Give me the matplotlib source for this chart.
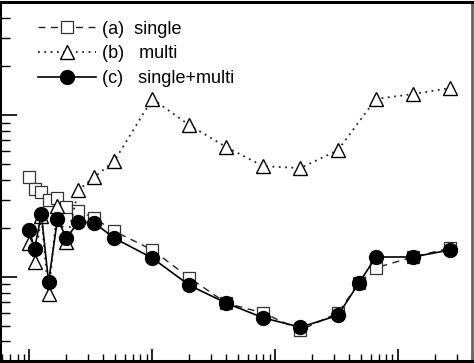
#!/usr/bin/env python3
"""Log-log comparison of single, multi and single+multi series."""

import matplotlib
matplotlib.use("Agg")
import matplotlib.pyplot as plt
from matplotlib.ticker import LogLocator, NullFormatter

plt.rcParams["font.family"] = ["Liberation Sans", "DejaVu Sans"]

# x positions shared by every series
x_vals = [1.0, 1.1, 1.25, 1.43, 1.69, 2.0, 2.5, 3.37, 4.9,
          10.0, 20.0, 40.0, 80.0, 160.0, 324.0, 480.0, 660.0, 1320.0, 2640.0]

# (a) single
single = [4.14, 3.49, 3.35, 2.99, 3.07, 2.70, 2.56, 2.31, 1.92,
          1.47, 0.99, 0.69, 0.60, 0.47, 0.60, 0.92, 1.14, 1.33, 1.51]

# (b) multi
multi = [1.62, 1.24, 2.38, 0.785, 2.74, 1.64, 3.44, 4.14, 5.20,
         12.6, 8.68, 6.35, 4.84, 4.71, 6.08, None, 12.6, 13.5, 14.7]

# (c) single+multi
combined = [1.95, 1.49, 2.45, 0.93, 2.28, 1.74, 2.19, 2.16, 1.74,
            1.31, 0.89, 0.69, 0.56, 0.49, 0.58, 0.92, 1.33, 1.33, 1.47]

labels = ["(a)  single", "(b)   multi", "(c)   single+multi"]


def drop_missing(xs, ys):
    pairs = [(x, y) for x, y in zip(xs, ys) if y is not None]
    return [p[0] for p in pairs], [p[1] for p in pairs]


fig = plt.figure(figsize=(4.74, 3.63), dpi=100)
ax = fig.add_axes([0.001, 0.0055, 0.995, 0.989])

xa, ya = drop_missing(x_vals, single)
xb, yb = drop_missing(x_vals, multi)
xc, yc = drop_missing(x_vals, combined)

ax.plot(xa, ya, linestyle=(0, (5, 4)), color="#222222", linewidth=1.0,
        marker="s", markersize=8.5, markerfacecolor="white",
        markeredgecolor="#333333", markeredgewidth=0.9, label=labels[0], zorder=2)
ax.plot(xb, yb, linestyle=(0, (1, 2.5)), color="#222222", linewidth=1.3,
        marker="^", markersize=9.5, markerfacecolor="white",
        markeredgecolor="black", markeredgewidth=1.0, label=labels[1], zorder=3)
ax.plot(xc, yc, linestyle="-", color="black", linewidth=1.2,
        marker="o", markersize=10, markerfacecolor="black",
        markeredgecolor="black", label=labels[2], zorder=4)

ax.set_xscale("log")
ax.set_yscale("log")
ax.set_xlim(0.581, 4000)
ax.set_ylim(0.303, 50)

ax.xaxis.set_major_locator(LogLocator(base=10))
ax.xaxis.set_minor_locator(LogLocator(base=10, subs=range(2, 10)))
ax.yaxis.set_major_locator(LogLocator(base=10))
ax.yaxis.set_minor_locator(LogLocator(base=10, subs=range(2, 10)))
ax.xaxis.set_major_formatter(NullFormatter())
ax.xaxis.set_minor_formatter(NullFormatter())
ax.yaxis.set_major_formatter(NullFormatter())
ax.yaxis.set_minor_formatter(NullFormatter())

ax.tick_params(which="major", direction="in", length=9, width=1.2,
               top=False, right=False)
ax.tick_params(which="minor", direction="in", length=5, width=1.0,
               top=False, right=False)
ax.tick_params(axis="y", which="major", length=12)
ax.tick_params(axis="y", which="minor", length=7)

for side in ("left", "bottom", "top"):
    ax.spines[side].set_linewidth(2.2)
    ax.spines[side].set_color("black")
ax.spines["right"].set_linewidth(2.0)
ax.spines["right"].set_color("#666666")

ax.legend(loc="upper left", bbox_to_anchor=(0.08, 0.948), frameon=False,
          fontsize=13, handlelength=3.2, handletextpad=0.35,
          labelspacing=0.42, borderpad=0, borderaxespad=0)

fig.savefig("out.png", dpi=100)
